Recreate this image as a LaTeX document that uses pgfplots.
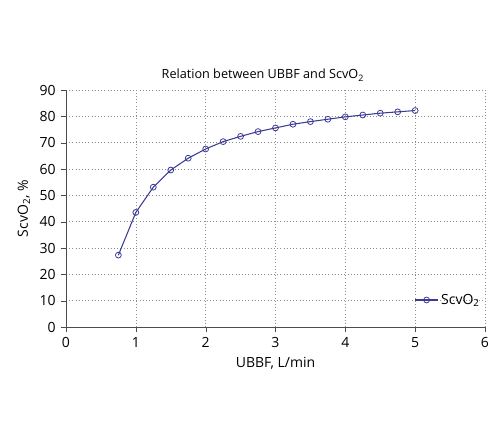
\documentclass[border=0pt]{standalone}
\usepackage{fontspec}
\setmainfont{Open Sans}
\usepackage{pgfplots}
\pgfplotsset{compat=1.18}
\definecolor{ser}{RGB}{60,60,150}
\begin{document}
\fontsize{10.5}{12.5}\selectfont
\begin{tikzpicture}
\path[use as bounding box] (0pt,0pt) rectangle (375pt,334.5pt);
\begin{axis}[
  at={(49.5pt,89.25pt)}, anchor=south west,
  scale only axis, width=314.25pt, height=177.75pt,
  xmin=0, xmax=6, ymin=0, ymax=90,
  xtick={0,1,...,6}, ytick={0,10,...,90},
  axis lines=left, axis line style={-, draw=black!70},
  tick align=outside, tick style={draw=black!70},
  major tick length=4pt,
  grid=major, grid style={dotted, draw=black!45, line width=0.5pt},
  /pgf/number format/assume math mode=true,
  ticklabel style={font=\fontsize{10.5}{12}\selectfont},
  title={Relation between UBBF and ScvO\textsubscript{2}},
  title style={font=\fontsize{9.5}{12}\selectfont, yshift=-3pt, xshift=-9.5pt},
  xlabel={UBBF, L/min}, ylabel={ScvO\textsubscript{2}, \%},
  label style={font=\fontsize{10.5}{12}\selectfont},
  legend style={at={(1.004,0.114)}, anchor=east, draw=none, fill=none, font=\fontsize{10.5}{12}\selectfont},
  legend cell align=left,
]
\addplot[color=ser, line width=0.8pt, mark=o, mark size=2.2pt, mark options={line width=0.6pt}] coordinates {
(0.75,27.3) (1.00,43.5) (1.25,53.1) (1.50,59.6) (1.75,64.1) (2.00,67.6)
(2.25,70.4) (2.50,72.4) (2.75,74.2) (3.00,75.6) (3.25,77.0) (3.50,78.0)
(3.75,78.9) (4.00,79.8) (4.25,80.5) (4.50,81.2) (4.75,81.7) (5.00,82.2)
};
\addlegendentry{ScvO\textsubscript{2}}
\end{axis}
\end{tikzpicture}
\end{document}
